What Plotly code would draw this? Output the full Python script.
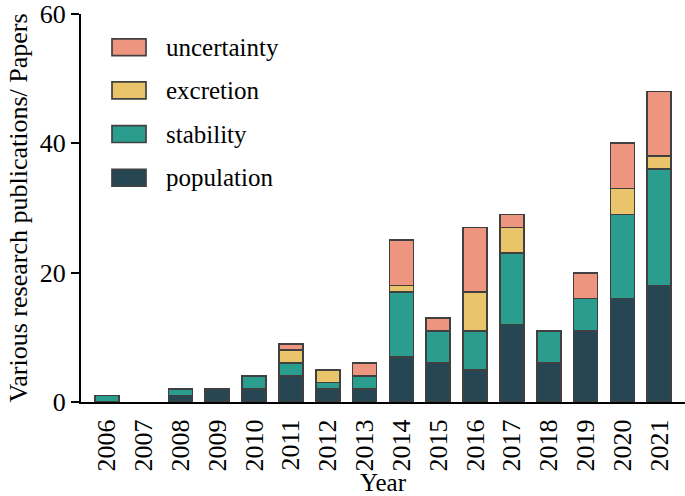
import plotly.graph_objects as go

years = ["2006", "2007", "2008", "2009", "2010", "2011", "2012", "2013",
         "2014", "2015", "2016", "2017", "2018", "2019", "2020", "2021"]
population = [0, 0, 1, 2, 2, 4, 2, 2, 7, 6, 5, 12, 6, 11, 16, 18]
stability = [1, 0, 1, 0, 2, 2, 1, 2, 10, 5, 6, 11, 5, 5, 13, 18]
excretion = [0, 0, 0, 0, 0, 2, 2, 0, 1, 0, 6, 4, 0, 0, 4, 2]
uncertainty = [0, 0, 0, 0, 0, 1, 0, 2, 7, 2, 10, 2, 0, 4, 7, 10]

series_names = ["population", "stability", "excretion", "uncertainty"]
series_values = [population, stability, excretion, uncertainty]
colors = ["#264653", "#2A9D8F", "#E9C46A", "#EE9580"]

FONT = "Liberation Serif, Times New Roman, serif"

fig = go.Figure()
for name, vals, col in zip(series_names, series_values, colors):
    fig.add_trace(go.Bar(
        x=years, y=[v if v else None for v in vals], name=name,
        marker=dict(color=col, line=dict(color="#404040", width=1.7)),
        showlegend=False,
    ))

# legend drawn manually (top entry = uncertainty)
L, R, T, B = 81, 685, 11, 402
def px2x(px): return (px - L) / (R - L)
def px2y(py): return (B - py) / (B - T)

legend_rows = [("uncertainty", colors[3], 44.5), ("excretion", colors[2], 88),
               ("stability", colors[1], 132), ("population", colors[0], 176)]
for label, col, cy in legend_rows:
    fig.add_shape(type="rect", xref="paper", yref="paper",
                  x0=px2x(112), x1=px2x(146), y0=px2y(cy + 8.5), y1=px2y(cy - 8.5),
                  fillcolor=col, line=dict(color="#404040", width=1.7))
    fig.add_annotation(xref="paper", yref="paper", x=px2x(164), y=px2y(cy),
                       text=label, showarrow=False, xanchor="left", yanchor="middle",
                       font=dict(family=FONT, size=25, color="black"))

fig.update_layout(
    width=685, height=496,
    margin=dict(l=L, r=685 - R, t=T, b=496 - B),
    barmode="stack", bargap=0.35,
    plot_bgcolor="white", paper_bgcolor="white",
    font=dict(family=FONT, size=25, color="black"),
    xaxis=dict(
        range=[-0.7, 15.7], tickangle=-90, showline=True, linecolor="black",
        linewidth=2, ticks="", showgrid=False, zeroline=False,
        tickfont=dict(size=26), ticklabelstandoff=5,
        title=dict(text="Year", font=dict(size=25), standoff=0),
    ),
    yaxis=dict(
        range=[0, 60], tickvals=[0, 20, 40, 60], showline=True, linecolor="black",
        linewidth=2, ticks="outside", ticklen=8, tickwidth=2, tickcolor="black",
        showgrid=False, zeroline=False, tickfont=dict(size=26),
        ticklabeloverflow="allow",
        title=dict(text="Various research publications/ Papers", font=dict(size=26), standoff=5),
    ),
)

fig.write_html("out.html", config={"displayModeBar": False},
               post_script="document.body.style.margin='0';document.body.style.overflow='hidden';")
